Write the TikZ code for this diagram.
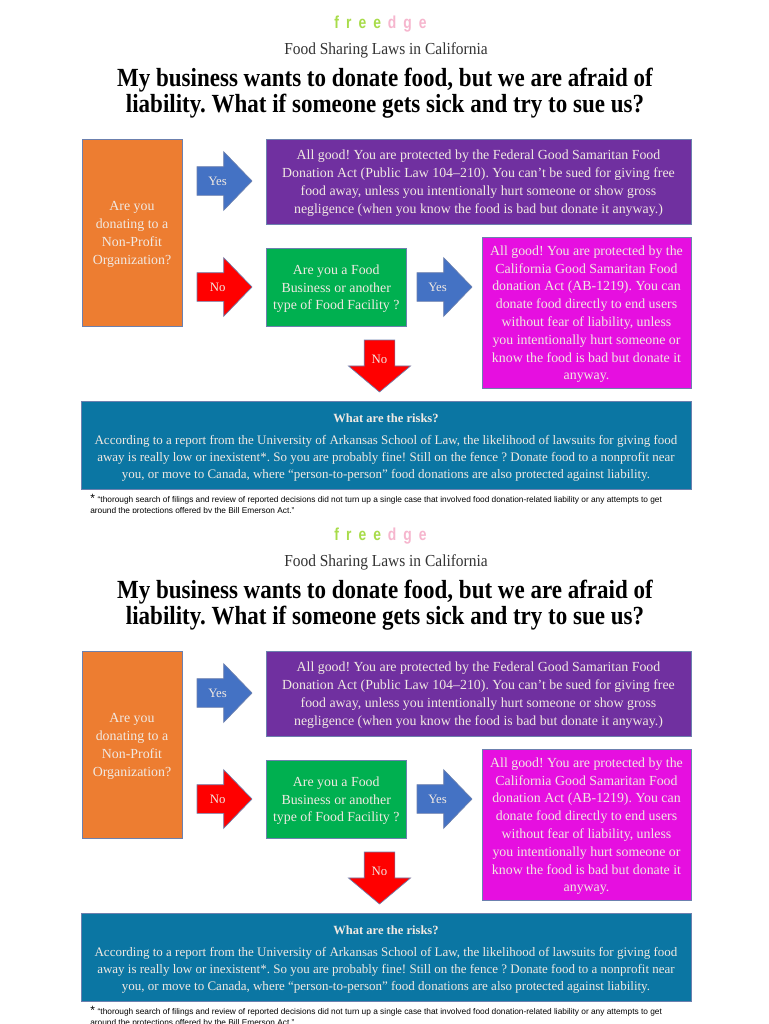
\documentclass[tikz,border=0pt]{standalone}
\usepackage{fontspec}
\usepackage{xcolor}
\usetikzlibrary{shapes.arrows}
\setmainfont{Liberation Serif}
\newfontfamily\footfont{Liberation Sans}
\newfontfamily\logofont[LetterSpace=41,FakeStretch=0.8]{Liberation Sans Bold}
\newfontfamily\titlefont[FakeStretch=0.88]{Liberation Serif Bold}
\newfontfamily\subfont[FakeStretch=0.92]{Liberation Serif}
\definecolor{edgeblue}{HTML}{6C80AE}
\definecolor{cOrange}{HTML}{ED7D31}
\definecolor{cPurple}{HTML}{7030A0}
\definecolor{cGreen}{HTML}{00B050}
\definecolor{cMagenta}{HTML}{E60FE0}
\definecolor{cTeal}{HTML}{0B76A3}
\definecolor{cBlue}{HTML}{4472C4}
\definecolor{cRed}{HTML}{FF0000}
\definecolor{cText}{HTML}{F1E9E2}
\definecolor{logoGreen}{HTML}{A8DC4A}
\definecolor{logoPink}{HTML}{F6B6CE}
\tikzset{
  box/.style={draw=edgeblue,line width=0.6pt,inner sep=0pt,text=cText,align=center,
    font=\fontsize{10.4}{13.35}\selectfont},
  riskbox/.style={box,font=\fontsize{9.76}{12.7}\selectfont},
  arrowbase/.style={single arrow,single arrow head indent=0pt,inner sep=0pt,outer sep=0pt,
    draw=edgeblue,line width=0.5pt,text=cText,font=\fontsize{9.6}{12}\selectfont},
  rightarrow/.style={arrowbase,anchor=tail,minimum height=41.25pt,minimum width=43.5pt,
    text height=13.5pt,text depth=7.5pt,
    single arrow head extend=11.25pt,single arrow tip angle=92},
  downarrow/.style={arrowbase,anchor=tail,shape border rotate=270,minimum height=39pt,minimum width=46pt,
    text width=22.5pt,align=center,
    single arrow head extend=11.75pt,single arrow tip angle=100},
}
\newcommand{\panelbox}[8][box]{% style, name, x1,y1,x2,y2,colour,text
  \node[#1,fill=#7,minimum width={(#5-#3)*0.75pt},minimum height={(#6-#4)*0.75pt}] (#2) at ({(#3+#5)/2},{(#4+#6)/2}) {\rule{0pt}{10pt}#8};}
\newcommand{\sharepanel}[2]{%
\begin{scope}[yshift=#2]
  \path[clip] (0,0) rectangle (768,512);
  \node (#1logo) at (380.5,24) {\logofont\fontsize{13}{14}\selectfont\textcolor{logoGreen}{free}\kern5pt\textcolor{logoPink}{dge}};
  \node (#1sub) at (386,50) {\subfont\fontsize{12.6}{14}\selectfont\textcolor{black!80}{Food Sharing Laws in California}};
  \node[align=center,font=\titlefont\fontsize{19.6}{19.6}\selectfont] (#1title) at (385,93.5) {My business wants to donate food, but we are afraid of\\liability. What if someone gets sick and try to sue us?};
  \panelbox{#1org}{82}{139}{182}{326}{cOrange}{Are you\\donating to a\\Non-Profit\\Organization?}
  \panelbox{#1fed}{266}{139}{691}{224}{cPurple}{All good! You are protected by the Federal Good Samaritan Food\\Donation Act (Public Law 104--210). You can’t be sued for giving free\\food away, unless you intentionally hurt someone or show gross\\negligence (when you know the food is bad but donate it anyway.)}
  \panelbox{#1fac}{266.5}{248}{406}{326}{cGreen}{Are you a Food\\Business or another\\type of Food Facility ?}
  \panelbox{#1cal}{482}{237}{691}{388}{cMagenta}{All good! You are protected by the\\California Good Samaritan Food\\donation Act (AB-1219). You can\\donate food directly to end users\\without fear of liability, unless\\you intentionally hurt someone or\\know the food is bad but donate it\\anyway.}
  \panelbox[riskbox]{#1risk}{81}{401}{691}{489}{cTeal}{{\fontsize{9.4}{12.7}\selectfont\bfseries What are the risks?}\\[4pt]According to a report from the University of Arkansas School of Law, the likelihood of lawsuits for giving food\\away is really low or inexistent*. So you are probably fine! Still on the fence ? Donate food to a nonprofit near\\you, or move to Canada, where “person-to-person” food donations are also protected against liability.}
  \node[rightarrow,fill=cBlue] (#1yesa) at (197,181) {Yes\hspace{3pt}};
  \node[rightarrow,fill=cRed] (#1noa) at (197,287) {No\hspace{3pt}};
  \node[rightarrow,fill=cBlue] (#1yesb) at (417,287) {Yes\hspace{3pt}};
  \node[downarrow,fill=cRed] (#1nob) at (379.5,340) {\raisebox{-1.5pt}{No}};
  \node[anchor=north west,inner sep=0pt,align=left,font=\footfont\fontsize{6.24}{8.6}\selectfont] (#1foot) at (90,493.5) {{\fontsize{9}{8.6}\selectfont*}\,\,“thorough search of filings and review of reported decisions did not turn up a single case that involved food donation-related liability or any attempts to get\\around the protections offered by the Bill Emerson Act.”};
\end{scope}}
\begin{document}
\frenchspacing
\begin{tikzpicture}[x=0.75pt,y=-0.75pt]
  \useasboundingbox (0,0) rectangle (768,1024);
  \fill[white] (0,0) rectangle (768,1024);
  \sharepanel{a}{0pt}
  \sharepanel{b}{-384pt}
\end{tikzpicture}
\end{document}
